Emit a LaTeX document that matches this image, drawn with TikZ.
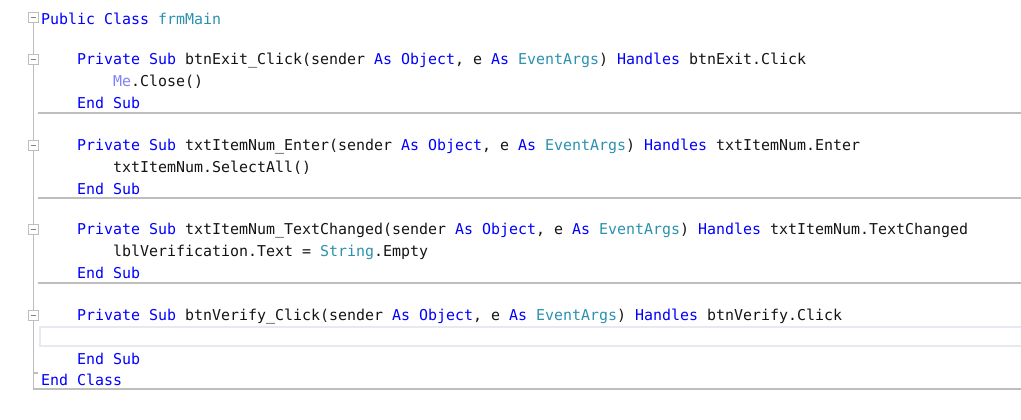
\documentclass[tikz,border=0pt]{standalone}
\usepackage{fontspec}
\setmonofont{DejaVu Sans Mono}
\definecolor{kw}{RGB}{0,0,255}
\definecolor{ty}{RGB}{43,145,175}
\definecolor{me}{RGB}{128,128,255}
\definecolor{tx}{RGB}{20,20,20}
\definecolor{gl}{RGB}{190,190,190}
\definecolor{hl}{RGB}{232,232,242}
\newcommand{\K}[1]{\textcolor{kw}{#1}}
\newcommand{\T}[1]{\textcolor{ty}{#1}}
\begin{document}
\begin{tikzpicture}[x=1pt,y=-1pt,
  code/.style={anchor=west,inner sep=0pt,text=tx,yshift=-2pt,font=\ttfamily\fontsize{14.95}{18}\selectfont},
  fold/.style={draw=gl,fill=white,minimum size=10pt,inner sep=0pt},
  sep/.style={draw=gl,line width=1.2pt}]
\useasboundingbox (0,0) rectangle (1021,420);
\draw[hl,line width=1.5pt] (40,327) rectangle (1025,346);
\draw[gl,line width=1.2pt] (33.5,17) -- (33.5,389) -- (1021,389);
\draw[gl,line width=1.2pt] (33.5,373) -- (38,373);
\foreach \y in {113,198,283} \draw[sep] (38,\y) -- (1021,\y);
\foreach \n/\y in {f1/17,f2/59,f3/145,f4/229,f5/315}{
  \node[fold] (\n) at (33.5,\y) {};
  \draw[gray,line width=0.8pt] ([xshift=2.5pt]\n.west) -- ([xshift=-2.5pt]\n.east);
}
\node[code] (l1) at (41,17) {\K{Public Class} \T{frmMain}};
\node[code] (l3) at (77,59) {\K{Private Sub} btnExit\_Click(sender \K{As} \K{Object}, e \K{As} \T{EventArgs}) \K{Handles} btnExit.Click};
\node[code] (l4) at (113,80) {\textcolor{me}{Me}.Close()};
\node[code] (l5) at (77,101) {\K{End Sub}};
\node[code] (l7) at (77,145) {\K{Private Sub} txtItemNum\_Enter(sender \K{As} \K{Object}, e \K{As} \T{EventArgs}) \K{Handles} txtItemNum.Enter};
\node[code] (l8) at (113,166) {txtItemNum.SelectAll()};
\node[code] (l9) at (77,187) {\K{End Sub}};
\node[code] (l11) at (77,229) {\K{Private Sub} txtItemNum\_TextChanged(sender \K{As} \K{Object}, e \K{As} \T{EventArgs}) \K{Handles} txtItemNum.TextChanged};
\node[code] (l12) at (113,250) {lblVerification.Text = \T{String}.Empty};
\node[code] (l13) at (77,271) {\K{End Sub}};
\node[code] (l15) at (77,315) {\K{Private Sub} btnVerify\_Click(sender \K{As} \K{Object}, e \K{As} \T{EventArgs}) \K{Handles} btnVerify.Click};
\node[code] (l17) at (77,357) {\K{End Sub}};
\node[code] (l18) at (41,378) {\K{End Class}};
\end{tikzpicture}
\end{document}
